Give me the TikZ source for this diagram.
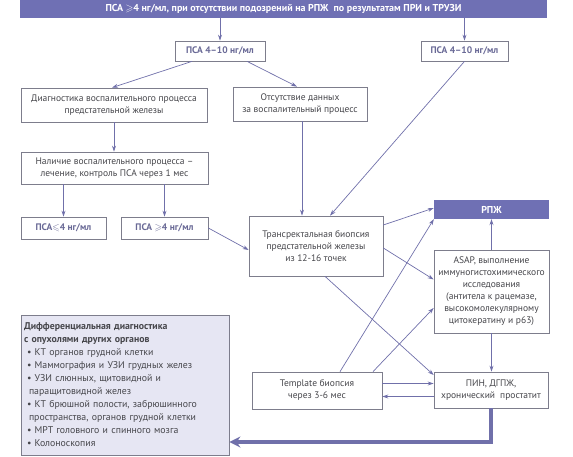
\documentclass[tikz,border=0pt]{standalone}
\usepackage{amssymb}
\usepackage{fontspec}
\setmainfont{PT Sans}
\usetikzlibrary{arrows.meta}

\definecolor{bandblue}{RGB}{111,112,180}
\definecolor{linkblue}{RGB}{112,112,170}
\definecolor{boxgray}{RGB}{125,125,140}
\definecolor{txtgray}{RGB}{70,70,75}
\definecolor{psatxt}{RGB}{105,105,150}
\definecolor{difffill}{RGB}{230,230,243}

\newcommand{\psage}{\ensuremath{\geqslant}}
\newcommand{\psale}{\ensuremath{\leqslant}}

\tikzset{
  box/.style={draw=boxgray, line width=0.7pt, fill=white, text=txtgray,
    align=center, inner sep=0pt, font=\fontsize{9.5}{12}\selectfont},
  psabox/.style={box, text=psatxt, font=\fontsize{9.5}{12}\selectfont\bfseries},
  filledbox/.style={fill=bandblue, text=white, inner sep=0pt,
    font=\fontsize{10}{12}\selectfont\bfseries},
  link/.style={draw=linkblue, line width=0.7pt, -{Stealth[length=6pt,width=4pt]}},
  biglink/.style={draw=linkblue, line width=3.5pt, -{Stealth[length=11pt,width=11pt]}}
}

\begin{document}
\begin{tikzpicture}[x=1pt, y=-1pt]
\useasboundingbox (0,0) rectangle (573,457);

\node[filledbox, minimum width=527pt, minimum height=18pt] (top) at (283.5,9)
  {ПСА \psage4 нг/мл, при отсутствии подозрений на РПЖ \ по результатам ПРИ и ТРУЗИ};

\node[psabox, minimum width=90pt, minimum height=20pt] (psaA) at (220,51) {ПСА 4--10 нг/мл};
\node[psabox, minimum width=87pt, minimum height=20pt] (psaB) at (464.5,51) {ПСА 4--10 нг/мл};

\node[box, minimum width=186pt, minimum height=34pt] (diag) at (114,105)
  {Диагностика воспалительного процесса\\предстательной железы};
\node[box, minimum width=134pt, minimum height=34pt] (absent) at (300,104)
  {Отсутствие данных\\за воспалительный процесс};
\node[box, minimum width=187pt, minimum height=32pt] (inflam) at (114.5,168)
  {Наличие воспалительного процесса --\\лечение, контроль ПСА через 1 мес};

\node[psabox, minimum width=85pt, minimum height=22pt] (psalow) at (63.5,228) {ПСА\psale4 нг/мл};
\node[psabox, minimum width=87pt, minimum height=22pt] (psahigh) at (164.5,228) {ПСА \psage4 нг/мл};

\node[box, minimum width=134pt, minimum height=60pt] (trus) at (316,246)
  {Трансректальная биопсия\\предстательной железы\\из 12-16 точек};
\node[filledbox, minimum width=115pt, minimum height=19pt] (cancer) at (491.5,209.5) {РПЖ};
\node[box, minimum width=115pt, minimum height=83pt] (asap) at (491.5,291.5)
  {ASAP, выполнение\\иммуногистохимического\\исследования\\(антитела к рацемазе,\\высокомолекулярному\\цитокератину и р63)};
\node[box, minimum width=130pt, minimum height=37pt] (templ) at (317,390.5)
  {Template биопсия\\через 3-6 мес};
\node[box, minimum width=114pt, minimum height=36pt] (pin) at (491,390)
  {ПИН, ДГПЖ,\\хронический \ простатит};

% differential diagnosis
\node[box, fill=difffill, minimum width=208pt, minimum height=140pt, text width=202pt,
  align=left, font=\fontsize{9.8}{13}\selectfont] (diff) at (125,385)
  {\textbf{Дифференциальная диагностика}\\
   \textbf{с опухолями других органов}\\
   \hspace*{3pt}• КТ органов грудной клетки\\
   \hspace*{3pt}• Маммография и УЗИ грудных желез\\
   \hspace*{3pt}• УЗИ слюнных, щитовидной и\\
   \hspace*{5pt}паращитовидной желез\\
   \hspace*{3pt}• КТ брюшной полости, забрюшинного\\
   \hspace*{5pt}пространства, органов грудной клетки\\
   \hspace*{3pt}• МРТ головного и спинного мозга\\
   \hspace*{3pt}• Колоноскопия};

% connectors
\draw[link] (top.south -| psaA.north) -- (psaA.north);
\draw[link] (top.south -| psaB.north) -- (psaB.north);
\draw[link] ([xshift=-28pt]psaA.south) -- ([xshift=-2pt]diag.north);
\draw[link] ([xshift=27pt]psaA.south) -- ([xshift=-3pt]absent.north);
\draw[link] (psaB.south) -- ([xshift=14pt]trus.north);
\draw[link] ([xshift=2pt]absent.south) -- ([xshift=-14pt]trus.north);
\draw[link] (diag.south) -- (diag.south |- inflam.north);
\draw[link] (inflam.south -| psalow.north) -- (psalow.north);
\draw[link] (inflam.south -| psahigh.north) -- (psahigh.north);
\draw[link] (psahigh.east) -- ([yshift=-4pt]trus.west);
\draw[link] ([yshift=21pt]trus.east) -- ([yshift=1.5pt]cancer.west);
\draw[link] ([yshift=-2pt]trus.east) -- ([yshift=12pt]asap.west);
\draw[link] ([xshift=9pt]trus.south) -- ([yshift=15pt]pin.west);
\draw[link] (asap.north) -- (cancer.south);
\draw[link] (asap.south) -- (asap.south |- pin.north);
\draw[link] ([xshift=23pt]templ.north) -- (cancer.south west);
\draw[link] ([xshift=56pt]templ.north) -- ([yshift=-16.5pt]asap.west);
\coordinate (tpR) at ([yshift=7pt]templ.east);
\coordinate (tpL) at ([yshift=-6pt]templ.east);
\draw[link] (tpR) -- (tpR -| pin.west);
\draw[link] (tpL -| pin.west) -- (tpL);
\draw[biglink] (pin.south) |- ([yshift=-57pt]diff.east);
\end{tikzpicture}
\end{document}
